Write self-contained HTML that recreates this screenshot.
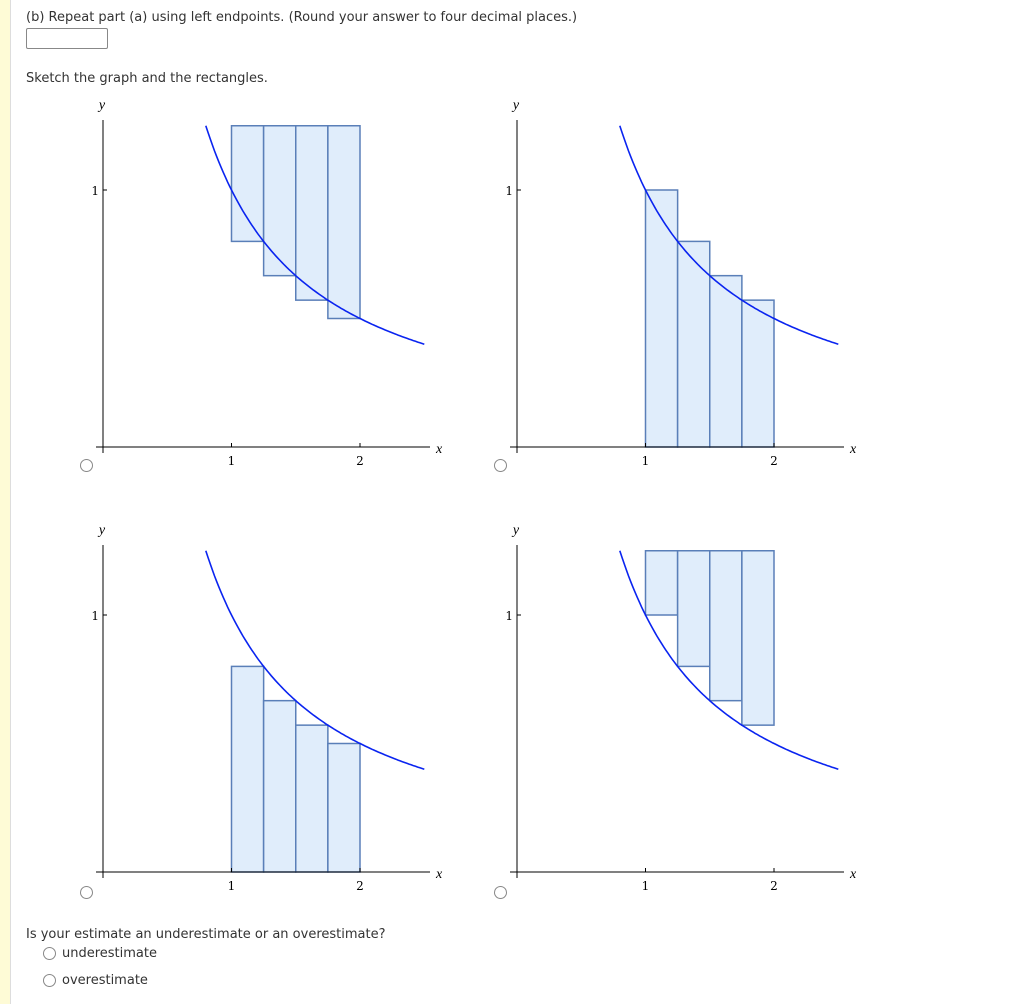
<!DOCTYPE html>
<html><head><meta charset="utf-8"><style>
body{margin:0;width:1022px;height:1004px;background:#fff;overflow:hidden;font-family:"DejaVu Sans","Liberation Sans",sans-serif;}
#strip{position:absolute;left:0;top:0;width:10px;height:1004px;background:#fefbd6;border-right:1px solid #ddd;}
.t{position:absolute;font-size:13px;color:#333;white-space:nowrap;}
#box{position:absolute;left:26px;top:28px;width:80px;height:19px;border:1px solid #888;border-radius:2px;}
svg{position:absolute;left:0;top:0;}
.rb{position:absolute;width:11px;height:11px;border:1px solid #888;border-radius:50%;background:#fff;}
</style></head><body>
<div id="strip"></div>
<div class="t" style="left:26px;top:10px">(b) Repeat part (a) using left endpoints. (Round your answer to four decimal places.)</div>
<div id="box"></div>
<div class="t" style="left:26px;top:71px">Sketch the graph and the rectangles.</div>
<svg id="s" width="1022" height="1004"></svg>
<div class="rb" style="left:80px;top:459px"></div>
<div class="rb" style="left:494px;top:459px"></div>
<div class="rb" style="left:80px;top:886px"></div>
<div class="rb" style="left:494px;top:886px"></div>
<div class="t" style="left:26px;top:927px">Is your estimate an underestimate or an overestimate?</div>
<div class="rb" style="left:43px;top:947px"></div>
<div class="t" style="left:62px;top:946px">underestimate</div>
<div class="rb" style="left:43px;top:974px"></div>
<div class="t" style="left:62px;top:973px">overestimate</div>
<script>
const xTicks=[1,2];
const yTicks=[1];
const rectEdges=[1,1.25,1.5,1.75,2];
const curveRange=[0.8,2.5];
const topLevel=1.25;
// mode per chart: rectangle lower/upper bounds
const chartModes=["right-top","left-zero","right-zero","left-top"];
const origins=[[103,447],[517,447],[103,872],[517,872]];
const XS=128.5, YS=257;
const NS="http://www.w3.org/2000/svg";
const svg=document.getElementById('s');
function f(x){return 1/x;}
function mk(tag,attrs,parent){const e=document.createElementNS(NS,tag);for(const k in attrs)e.setAttribute(k,attrs[k]);(parent||svg).appendChild(e);return e;}
origins.forEach((o,ci)=>{
  const sx=x=>o[0]+x*XS, sy=y=>o[1]-y*YS;
  const g=mk('g',{});
  
  
  const mode=chartModes[ci];
  for(let i=0;i<4;i++){
    const a=rectEdges[i],b=rectEdges[i+1];
    const fv=mode.startsWith('right')?f(b):f(a);
    const lo=mode.endsWith('zero')?0:fv, hi=mode.endsWith('zero')?fv:topLevel;
    const r=mk('rect',{x:sx(a),y:sy(hi),width:sx(b)-sx(a),height:sy(lo)-sy(hi),fill:'#e0edfb',stroke:'#5a7fb8','stroke-width':1.5},g);
    
    
  }
  let d='';
  for(let k=0;k<=100;k++){const x=curveRange[0]+(curveRange[1]-curveRange[0])*k/100;d+=(k?'L':'M')+sx(x).toFixed(1)+','+sy(f(x)).toFixed(1);}
  const c=mk('path',{d:d,fill:'none',stroke:'#0a24f0','stroke-width':1.6},g);
  
  
  const xa=mk('line',{x1:o[0]-7,y1:o[1],x2:o[0]+327,y2:o[1],stroke:'#000','stroke-width':1},g);
  
  
  const ya=mk('line',{x1:o[0],y1:o[1]+6,x2:o[0],y2:o[1]-327,stroke:'#000','stroke-width':1},g);
  
  
  xTicks.forEach(t=>{
    mk('line',{x1:sx(t),y1:o[1],x2:sx(t),y2:o[1]-4,stroke:'#000'},g);
    const tx=mk('text',{x:sx(t),y:o[1]+18,'text-anchor':'middle','font-size':12,'font-family':'DejaVu Serif,serif'},g);
    tx.textContent=t;
    
    
  });
  yTicks.forEach(t=>{
    mk('line',{x1:o[0],y1:sy(t),x2:o[0]+4,y2:sy(t),stroke:'#000'},g);
    const ty=mk('text',{x:o[0]-4,y:sy(t)+5,'text-anchor':'end','font-size':12,'font-family':'DejaVu Serif,serif'},g);
    ty.textContent=t;
    
    
  });
  const xl=mk('text',{x:o[0]+333,y:o[1]+6,'font-size':14,'font-style':'italic','font-family':'Liberation Serif,serif'},g);
  xl.textContent='x';
  
  
  const yl=mk('text',{x:o[0]-1,y:o[1]-338,'text-anchor':'middle','font-size':14,'font-style':'italic','font-family':'Liberation Serif,serif'},g);
  yl.textContent='y';
  
  
});
</script>
</body></html>
